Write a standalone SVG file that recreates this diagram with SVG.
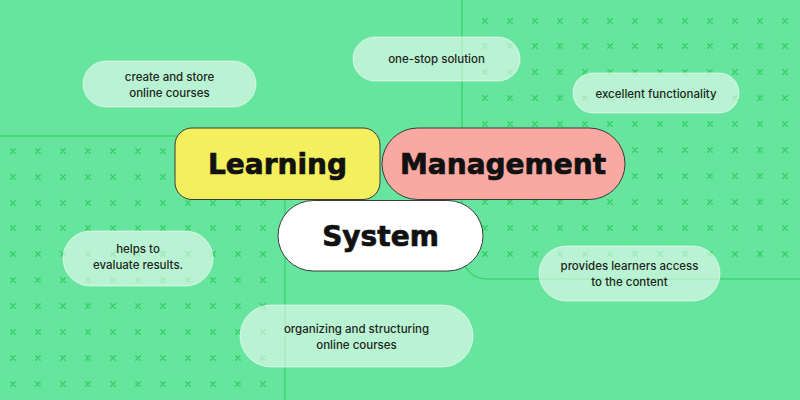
<svg xmlns="http://www.w3.org/2000/svg" xmlns:xlink="http://www.w3.org/1999/xlink" width="800" height="400" viewBox="0 0 800 400">
  <defs>
    <style>
      .bg { fill: #67E59E; }
      .region { fill: none; stroke: #3FD56F; stroke-width: 1.5; }
      .cross { stroke: #30CF62; stroke-width: 1.3; stroke-linecap: round; }
      .pill { fill: #FFFFFF; fill-opacity: 0.55; stroke: #FFFFFF; stroke-opacity: 0.55; stroke-width: 1; }
      .pill-text { font-family: Inter, "Noto Sans", "DejaVu Sans", sans-serif; font-size: 11.5px; font-weight: 500; fill: #1C2620; text-anchor: middle; }
      .main { stroke: #3A3A3A; stroke-width: 1; }
      .main-text { font-family: "DejaVu Sans", "Liberation Sans", sans-serif; font-weight: bold; font-size: 28px; fill: #111111; stroke: #111111; stroke-width: 0.7; text-anchor: middle; }
    </style>
    <path id="x" class="cross" d="M-2.2,-2.2 L2.2,2.2 M-2.2,2.2 L2.2,-2.2"/>
    <g id="row-left">
      <use xlink:href="#x" x="13"/><use xlink:href="#x" x="38"/><use xlink:href="#x" x="63"/><use xlink:href="#x" x="88"/>
      <use xlink:href="#x" x="113"/><use xlink:href="#x" x="138"/><use xlink:href="#x" x="163"/><use xlink:href="#x" x="188"/>
      <use xlink:href="#x" x="213"/><use xlink:href="#x" x="238"/><use xlink:href="#x" x="263"/>
    </g>
    <g id="row-right">
      <use xlink:href="#x" x="485"/><use xlink:href="#x" x="510"/><use xlink:href="#x" x="535"/><use xlink:href="#x" x="560"/>
      <use xlink:href="#x" x="585"/><use xlink:href="#x" x="610"/><use xlink:href="#x" x="635"/><use xlink:href="#x" x="660"/>
      <use xlink:href="#x" x="685"/><use xlink:href="#x" x="710"/><use xlink:href="#x" x="735"/><use xlink:href="#x" x="760"/>
      <use xlink:href="#x" x="785"/>
    </g>
  </defs>

  <rect class="bg" x="0" y="0" width="800" height="400"/>

  <g id="background-grid">
    <path class="region" d="M0,136 H260 A25,25 0 0 1 285,161 V400"/>
    <path class="region" d="M462,0 V254 A25,25 0 0 0 487,279 H800"/>
    <use xlink:href="#row-left" y="151"/>
    <use xlink:href="#row-left" y="177"/>
    <use xlink:href="#row-left" y="203"/>
    <use xlink:href="#row-left" y="228"/>
    <use xlink:href="#row-left" y="254"/>
    <use xlink:href="#row-left" y="280"/>
    <use xlink:href="#row-left" y="306"/>
    <use xlink:href="#row-left" y="332"/>
    <use xlink:href="#row-left" y="358"/>
    <use xlink:href="#row-left" y="384"/>
    <use xlink:href="#row-right" y="21"/>
    <use xlink:href="#row-right" y="46"/>
    <use xlink:href="#row-right" y="72"/>
    <use xlink:href="#row-right" y="98"/>
    <use xlink:href="#row-right" y="124"/>
    <use xlink:href="#row-right" y="150"/>
    <use xlink:href="#row-right" y="176"/>
    <use xlink:href="#row-right" y="202"/>
    <use xlink:href="#row-right" y="228"/>
    <use xlink:href="#row-right" y="254"/>
  </g>

  <g id="connectors"></g>

  <g id="node-create">
    <rect class="pill" x="83" y="61" width="173" height="46" rx="23"/>
    <text class="pill-text" x="169.5" y="81">create and store</text>
    <text class="pill-text" x="169.5" y="97">online courses</text>
  </g>
  <g id="node-onestop">
    <rect class="pill" x="353" y="37" width="167" height="44" rx="22"/>
    <text class="pill-text" x="436.5" y="63">one-stop solution</text>
  </g>
  <g id="node-excellent">
    <rect class="pill" x="573" y="73" width="166" height="40" rx="20"/>
    <text class="pill-text" x="656" y="97.5">excellent functionality</text>
  </g>
  <g id="node-provides">
    <rect class="pill" x="539" y="246" width="181" height="55" rx="27.5"/>
    <text class="pill-text" x="629.5" y="270">provides learners access</text>
    <text class="pill-text" x="629.5" y="286">to the content</text>
  </g>
  <g id="node-helps">
    <rect class="pill" x="63" y="231" width="150" height="55" rx="27.5"/>
    <text class="pill-text" x="138" y="253">helps to</text>
    <text class="pill-text" x="138" y="269">evaluate results.</text>
  </g>
  <g id="node-organizing">
    <rect class="pill" x="240" y="305" width="233" height="62" rx="31"/>
    <text class="pill-text" x="356.5" y="333">organizing and structuring</text>
    <text class="pill-text" x="356.5" y="349">online courses</text>
  </g>

  <g id="node-learning">
    <rect class="main" x="175" y="128" width="205" height="71.5" rx="17" fill="#F4EF5C"/>
    <text class="main-text" x="277.5" y="174">Learning</text>
  </g>
  <g id="node-management">
    <rect class="main" x="382" y="128" width="243" height="71.5" rx="35.75" fill="#F9A9A1"/>
    <text class="main-text" x="503" y="174">Management</text>
  </g>
  <g id="node-system">
    <rect class="main" x="278" y="200.5" width="205" height="70.5" rx="35.25" fill="#FFFFFF"/>
    <text class="main-text" x="380.5" y="246">System</text>
  </g>
</svg>
